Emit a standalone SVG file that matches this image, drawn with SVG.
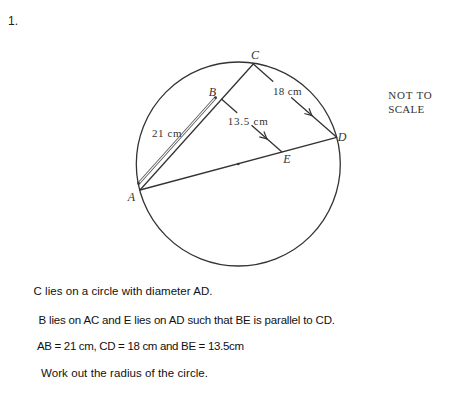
<svg xmlns="http://www.w3.org/2000/svg" width="474" height="409" viewBox="0 0 474 409">
<defs>
<style>
.ln{stroke:#333;stroke-width:1.3;fill:none;stroke-linecap:round}
.pt{font-family:"Liberation Serif","Times New Roman",serif;font-style:italic;font-size:12px;fill:#333}
.dim{font-family:"Liberation Serif","Times New Roman",serif;font-size:11px;fill:#333}
.body{font-family:"Liberation Sans",Arial,sans-serif;font-size:11.5px;fill:#111}
</style>
<marker id="arr" viewBox="-8 -5 10 10" refX="0" refY="0" markerWidth="10" markerHeight="10" markerUnits="userSpaceOnUse" orient="auto">
<path d="M-7,-3.5 L0,0 L-7,3.5" fill="none" stroke="#333" stroke-width="1.2"/>
</marker>
</defs>
<rect width="474" height="409" fill="#fff"/>
<text x="8" y="25" style="font-family:'Liberation Sans',Arial,sans-serif;font-size:12px;fill:#222">1.</text>
<g id="circle">
<circle cx="238.3" cy="164" r="102" class="ln"/>
<circle cx="238.3" cy="164" r="1.3" fill="#333"/>
</g>
<g id="connectors">
<line id="AC" x1="140" y1="190" x2="253.3" y2="64" class="ln"/>
<line id="AD" x1="140" y1="190" x2="336.7" y2="137.3" class="ln"/>
<g id="CD">
<line x1="253.3" y1="64" x2="272.8" y2="81.2" class="ln"/>
<line x1="291.6" y1="97.7" x2="311.9" y2="115.5" class="ln" marker-end="url(#arr)"/>
<line x1="311.9" y1="115.5" x2="336.7" y2="137.3" class="ln"/>
</g>
<g id="BE">
<line x1="221.7" y1="99.3" x2="236.8" y2="112.5" class="ln"/>
<line x1="251.8" y1="125.6" x2="266.9" y2="138.8" class="ln" marker-end="url(#arr)"/>
<line x1="266.9" y1="138.8" x2="281.7" y2="151.7" class="ln"/>
</g>
<g id="AB-dim">
<line x1="138.5" y1="183.6" x2="215.8" y2="97.4" stroke="#555" stroke-width="2.8"/>
<line x1="138.5" y1="183.6" x2="215.8" y2="97.4" stroke="#fff" stroke-width="1.1"/>
<circle cx="138.6" cy="183.4" r="1.3" fill="#333"/>
<circle cx="215.6" cy="97.6" r="1.3" fill="#333"/>
</g>
</g>
<g id="labels">
<text class="pt" x="255" y="59" text-anchor="middle">C</text>
<text class="pt" x="212.5" y="96" text-anchor="middle">B</text>
<text class="pt" x="342" y="141" text-anchor="middle">D</text>
<text class="pt" x="287" y="163" text-anchor="middle">E</text>
<text class="pt" x="131.5" y="200.5" text-anchor="middle">A</text>
<text class="dim" x="287.3" y="95.3" text-anchor="middle" textLength="28.5">18 cm</text>
<text class="dim" x="247.8" y="124.8" text-anchor="middle" textLength="40">13.5 cm</text>
<text class="dim" x="166.7" y="136.5" text-anchor="middle" textLength="29.5">21 cm</text>
</g>
<g id="note">
<text class="dim" x="388.3" y="98.5" textLength="43.4">NOT TO</text>
<text class="dim" x="388.3" y="113.2" textLength="36">SCALE</text>
</g>
<g id="text">
<text class="body" x="33.5" y="295" textLength="179">C lies on a circle with diameter AD.</text>
<text class="body" x="38.5" y="323.5" textLength="296.5">B lies on AC and E lies on AD such that BE is parallel to CD.</text>
<text class="body" x="37" y="350" textLength="207">AB = 21 cm, CD = 18 cm and BE = 13.5cm</text>
<text class="body" x="41" y="376.7" textLength="167">Work out the radius of the circle.</text>
</g>
</svg>
